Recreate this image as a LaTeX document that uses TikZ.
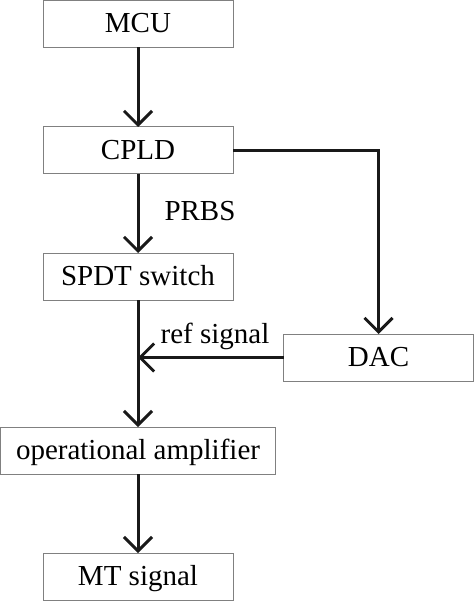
\documentclass[tikz,border=0pt]{standalone}
\usepackage{fontspec}
\setmainfont{Liberation Serif}
\usetikzlibrary{arrows.meta}
\begin{document}
\begin{tikzpicture}[x=1pt,y=1pt,
  blk/.style={draw=black!50, line width=1pt, fill=white, inner sep=0pt, outer sep=0pt,
    minimum width=190pt, minimum height=47pt, text height=20pt, text depth=2pt,
    font=\fontsize{29}{34}\selectfont},
  conn/.style={line width=3pt, black!90, -{Straight Barb[length=14pt,width=28pt]}},
  plain/.style={line width=3pt, black!90},
  lbl/.style={anchor=base, inner sep=0pt, font=\fontsize{29}{34}\selectfont}]
\useasboundingbox (0,0) rectangle (474,-601);
\node[blk] (mcu) at (138,-24) {MCU};
\node[blk] (cpld) at (138,-150.5) {CPLD};
\node[blk] (spdt) at (138,-276.5) {SPDT switch};
\node[blk, minimum width=190pt] (dac) at (378.5,-357.5) {DAC};
\node[blk, minimum width=275pt] (op) at (138,-450.5) {operational amplifier};
\node[blk] (mt) at (138,-576.5) {MT signal};
\coordinate (j) at (138,-357.5);
\coordinate (c1) at (378.5,-150.5);
\draw[conn] (mcu.south) -- (cpld.north);
\draw[conn] (cpld.south) -- (spdt.north);
\draw[conn] (cpld.east) -- (c1) -- (dac.north);
\draw[conn] (spdt.south) -- (op.north);
\draw[conn] (dac.west) -- (j);
\draw[conn] (op.south) -- (mt.north);
\node[lbl] (prbs) at (200,-221) {PRBS};
\node[lbl] (ref) at (215,-343) {ref signal};
\end{tikzpicture}
\end{document}
